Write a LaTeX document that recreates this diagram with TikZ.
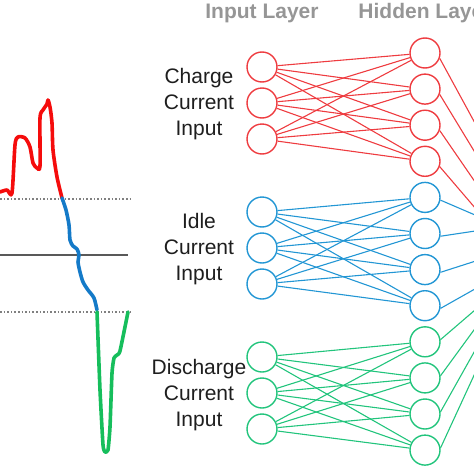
\documentclass[tikz,border=0pt]{standalone}
\usepackage{fontspec}
\setmainfont{Liberation Sans}
\definecolor{netred}{RGB}{238,60,64}
\definecolor{netblue}{RGB}{34,150,212}
\definecolor{netgreen}{RGB}{34,196,124}
\definecolor{wavered}{RGB}{245,12,12}
\definecolor{waveblue}{RGB}{20,122,200}
\definecolor{wavegreen}{RGB}{22,190,92}
\definecolor{headgray}{RGB}{150,150,150}
\definecolor{labeltext}{RGB}{30,30,30}
\begin{document}
\begin{tikzpicture}[x=1pt, y=-1pt,
    every node/.style={font=\fontsize{21}{26}\selectfont, text=labeltext},
    neuron/.style={circle, draw, line width=1.4pt, minimum size=30pt, inner sep=0pt},
    link/.style={line width=1.1pt},
    wave/.style={line width=3.6pt, line join=round, line cap=round},
    header/.style={font=\fontsize{21}{24}\selectfont\bfseries, text=headgray, anchor=base}]
  \useasboundingbox (0,0) rectangle (474,474);
  \clip (0,0) rectangle (474,474);

  % Current profile with reference levels
  \draw[gray, dotted, line width=1.6pt] (0,199) -- (130,199);
  \draw[gray, dotted, line width=1.6pt] (0,312) -- (130,312);
  \draw[gray!70!black, line width=1.8pt] (0,255) -- (128,255);
  \draw[wave, wavered] plot[smooth, tension=0.45] coordinates {(0,192) (7,190) (12,193)
    (15,145) (18,137) (25,138) (30,147) (33,163) (37,168) (40,166) (40,118) (43,110)
    (47,104) (48,100) (50,107) (52,123) (53,150) (57,177) (62,198)};
  \draw[wave, waveblue] plot[smooth, tension=0.45] coordinates {(62,198) (66,210)
    (69,225) (70,240) (73,246) (77,249) (79,255) (78,262) (80,272) (83,282) (88,290)
    (94,298) (97,310)};
  \draw[wave, wavegreen] plot[smooth, tension=0.3] coordinates {(97,312) (100,390)
    (103,445) (105,452) (108,450) (110,427) (112,373) (114,358) (117,355) (120,351)
    (128,312)};

  % Group labels
  \node[align=center] (chglabel) at (199,104) {Charge\\Current\\Input};
  \node[align=center] (idlelabel) at (199,249) {Idle\\Current\\Input};
  \node[align=center] (dislabel) at (199,395) {Discharge\\Current\\Input};

  % Layer titles
  \node[header] (inhead) at (262,18) {Input Layer};
  \node[header] (hidhead) at (425,18) {Hidden Layer};

  % Input layer
  \foreach \g/\col in {0/netred, 1/netblue, 2/netgreen} {
    \foreach \k in {0,1,2} {
      \pgfmathsetmacro{\yy}{67+145*\g+36*\k}
      \node[neuron, draw=\col] (i\g\k) at (262,\yy) {};
    }
  }

  % Hidden layer
  \foreach \g/\col in {0/netred, 1/netblue, 2/netgreen} {
    \foreach \m in {0,...,3} {
      \pgfmathtruncatemacro{\h}{4*\g+\m}
      \pgfmathsetmacro{\yy}{53+36.1*\h}
      \node[neuron, draw=\col] (h\h) at (425,\yy) {};
    }
  }

  % Input -> hidden
  \foreach \g/\col in {0/netred, 1/netblue, 2/netgreen} {
    \foreach \k in {0,1,2} {
      \foreach \m in {0,...,3} {
        \pgfmathtruncatemacro{\h}{4*\g+\m}
        \draw[link, \col] (i\g\k) -- (h\h);
      }
    }
  }

  % Hidden -> next layer (off the picture)
  \foreach \h/\y in {0/136, 1/164, 2/192, 3/216, 4/218, 5/230, 6/259, 7/285,
                     8/304, 9/319, 10/338, 11/358} {
    \coordinate (o\h) at (482,\y);
  }
  \foreach \g/\col/\ang in {0/netred/-20, 1/netblue/-10, 2/netgreen/8} {
    \foreach \m in {0,...,3} {
      \pgfmathtruncatemacro{\h}{4*\g+\m}
      \draw[link, \col] (h\h.\ang) -- (o\h);
    }
  }
\end{tikzpicture}
\end{document}
